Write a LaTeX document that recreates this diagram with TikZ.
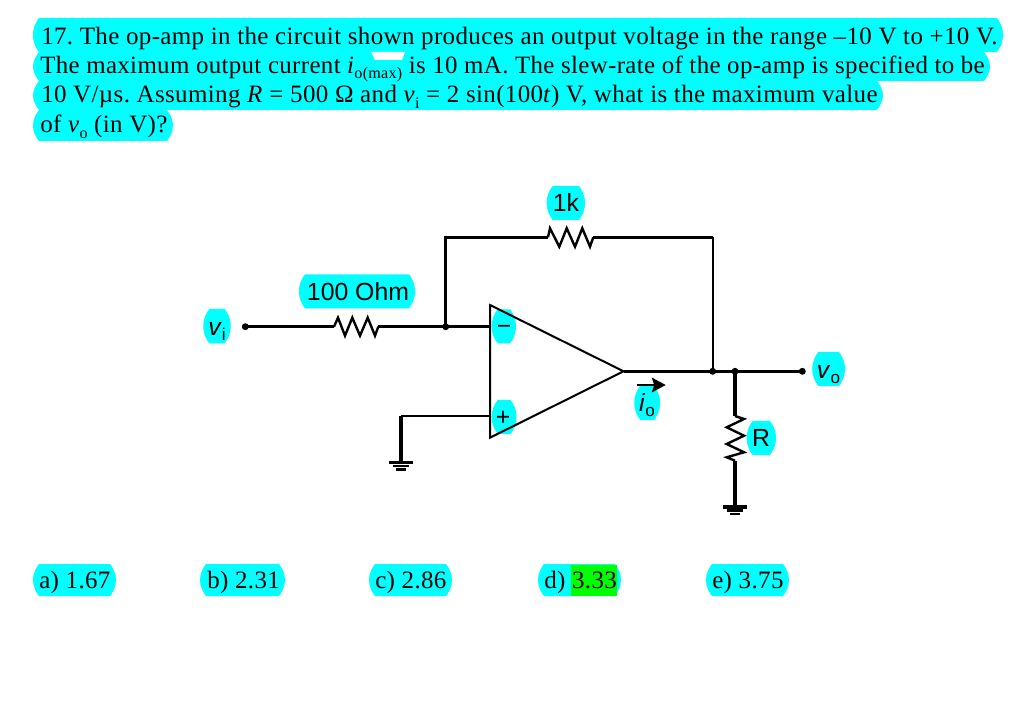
\documentclass[tikz,border=0pt]{standalone}
\usepackage{fontspec}
\usetikzlibrary{calc}
\setmainfont[LetterSpace=1.45]{Liberation Serif}
\newfontfamily\arialf{Liberation Sans}
\definecolor{hlc}{HTML}{00FFFF}
\definecolor{grn}{HTML}{00FF00}
\newcommand{\qsub}[1]{\raisebox{-0.22em}{\fontsize{12.1pt}{14pt}\selectfont #1}}
\newcommand{\lsub}[1]{\raisebox{-0.2em}{\fontsize{12.8pt}{14pt}\selectfont #1}}
\newcommand{\blob}[4]{\fill[hlc] (#1+6,#2) -- (#3-6,#2) .. controls (#3-3,#2+4) and (#3,#2+9) .. (#3,#2/2+#4/2) .. controls (#3,#4-9) and (#3-3,#4-4) .. (#3-6,#4) -- (#1+6,#4) .. controls (#1+3,#4-4) and (#1,#4-9) .. (#1,#2/2+#4/2) .. controls (#1,#2+9) and (#1+3,#2+4) .. (#1+6,#2) -- cycle;}
\tikzset{
  x=0.75pt,y=-0.75pt,
  wire/.style={draw=black,line width=1.9pt,line join=miter},
  heavywire/.style={draw=black,line width=2.4pt,line join=miter},
  thinwire/.style={draw=black,line width=1.5pt},
  zig/.style={draw=black,line width=1.8pt,line join=miter},
  junc/.style={circle,fill=black,inner sep=0pt,minimum size=5.2pt},
  qtext/.style={anchor=base west,inner sep=0pt,font=\fontsize{18.75pt}{22pt}\selectfont\frenchspacing},
  lab/.style={anchor=base,inner sep=0pt,font=\arialf\fontsize{18.6pt}{22pt}\selectfont},
}
\begin{document}
\begin{tikzpicture}
\useasboundingbox (0,0) rectangle (1024,705);
% question highlights
\blob{33}{18}{1003}{52}
\blob{33}{52}{990}{81}
\blob{33}{81}{883}{110}
\blob{33}{110}{173}{141}
\fill[white] (371,52) -- (405,52) -- (402,60) -- (375,60) -- cycle;
% label highlights
\blob{299}{274.3}{415}{308.3}
\blob{203.3}{309}{230.7}{343.3}
\blob{491.7}{309.3}{516}{343.3}
\blob{491.7}{400}{516.5}{434}
\blob{546.7}{186}{585}{220}
\blob{634.3}{385.7}{660}{420}
\blob{746.7}{421}{776}{455}
\blob{812.3}{352}{845}{386}
% answer highlights
\blob{33}{564}{116}{596}
\blob{200}{564}{285}{596}
\blob{369}{564}{452}{596}
\blob{538}{564}{621}{596}
\blob{706}{564}{789}{596}
\fill[grn] (571,565) rectangle (617,596);
% question text
\node[qtext] (q1) at (41,44.3) {17. The op-amp in the circuit shown produces an output voltage in the range –10 V to +10 V.};
\node[qtext,font=\fontsize{18.67pt}{22pt}\selectfont\frenchspacing] (q2) at (40,73.3) {The maximum output current \textit{i}\qsub{o(max)} is 10 mA. The slew-rate of the op-amp is specified to be};
\node[qtext] (q3) at (41,103) {10 V/µs. Assuming \textit{R} = 500 Ω and \textit{v}\qsub{i} = 2 sin(100\textit{t}) V, what is the maximum value};
\node[qtext] (q4) at (40,132.7) {of \textit{v}\qsub{o} (in V)?};
% op-amp
\coordinate (oa1) at (490,305);
\coordinate (oa2) at (490,437.7);
\coordinate (oa3) at (623.5,371.3);
\draw[thinwire,line join=miter] (oa1) -- (oa3) -- (oa2) -- cycle;
% terminals and junctions
\node[junc] (vin) at (245.3,326.7) {};
\node[junc] (jn) at (445.7,326.7) {};
\node[junc] (jf) at (712.7,371.3) {};
\node[junc] (jr) at (735,371.3) {};
\node[junc] (vout) at (802.3,371.3) {};
\coordinate (opm) at (490,326.7);
\coordinate (opp) at (490,416);
\coordinate (r1a) at (334,326.7);
\coordinate (r1b) at (378.3,326.7);
\coordinate (r2a) at (548,237.3);
\coordinate (r2b) at (593.3,237.3);
\coordinate (r3a) at (735,416);
\coordinate (r3b) at (735,460.7);
\coordinate (c1) at (445.7,237.3);
\coordinate (c2) at (712.7,237.3);
\coordinate (c3) at (401,416);
\coordinate (g1) at (401,462.3);
\coordinate (g2) at (735,507);
% wires
\draw[wire] (vin.center) -- (r1a);
\draw[wire] (r1b) -- (jn.center) -- (opm);
\draw[wire] (jn.center) -- (c1) -- (r2a);
\draw[wire] (r2b) -- (c2);
\draw[thinwire,line cap=square] (c2) -- (jf.center);
\draw[wire,line width=2.2pt] (oa3) -- (vout.center);
\draw[heavywire] (jr.center) -- (r3a);
\draw[heavywire] (r3b) -- (g2);
\draw[thinwire] (opp) -- (c3);
\draw[heavywire] (c3) -- (g1);
% resistors
\draw[zig] (r1a) -- ++(4,-9) -- ++(7,18) -- ++(7.3,-18) -- ++(7.7,18) -- ++(7.7,-18) -- ++(7.3,18) -- (r1b);
\draw[zig] (r2a) -- ++(2,-9) -- ++(9.3,18.4) -- ++(7.4,-18.4) -- ++(8.3,18.4) -- ++(7.3,-18.4) -- ++(7.7,18.4) -- (r2b);
\draw[zig] (r3a) -- ++(9,3) -- ++(-17.3,8.3) -- ++(17.3,8.4) -- ++(-17.3,8.3) -- ++(17.3,8.3) -- ++(-17.3,5) -- (r3b);
% grounds
\draw[heavywire] ($(g1)+(-12,0)$) -- ($(g1)+(12,0)$);
\draw[wire] ($(g1)+(-8,3.6)$) -- ($(g1)+(8,3.6)$);
\draw[wire] ($(g1)+(-5,7.2)$) -- ($(g1)+(5,7.2)$);
\draw[heavywire] ($(g2)+(-12,0)$) -- ($(g2)+(12,0)$);
\draw[wire] ($(g2)+(-8,3.6)$) -- ($(g2)+(8,3.6)$);
\draw[wire] ($(g2)+(-5,7.2)$) -- ($(g2)+(5,7.2)$);
% current arrow
\coordinate (ia) at (636.7,385);
\coordinate (ib) at (665.7,385);
\draw[wire] (ia) -- ($(ib)+(-10,0)$);
\fill[black] (ib) -- ($(ib)+(-14,-7.5)$) -- ($(ib)+(-11.5,0)$) -- ($(ib)+(-14,7.5)$) -- cycle;
% labels
\node[lab] (l100) at (358,300.5) {100 Ohm};
\node[lab] (lvi) at (217,335.5) {\textit{v}\lsub{i}};
\node[lab] (lm) at (504,335) {−};
\node[lab] (lp) at (503,425.5) {+};
\node[lab] (l1k) at (566,212) {1k};
\node[lab] (lio) at (647,411.5) {\textit{i}\lsub{o}};
\node[lab] (lR) at (761,447) {R};
\node[lab] (lvo) at (828.5,378.5) {\textit{v}\lsub{o}};
% answers
\node[qtext] (a1) at (39,588) {a) 1.67};
\node[qtext] (a2) at (207,588) {b) 2.31};
\node[qtext] (a3) at (375,588) {c) 2.86};
\node[qtext] (a4) at (544,588) {d) 3.33};
\node[qtext] (a5) at (712,588) {e) 3.75};
\end{tikzpicture}
\end{document}
